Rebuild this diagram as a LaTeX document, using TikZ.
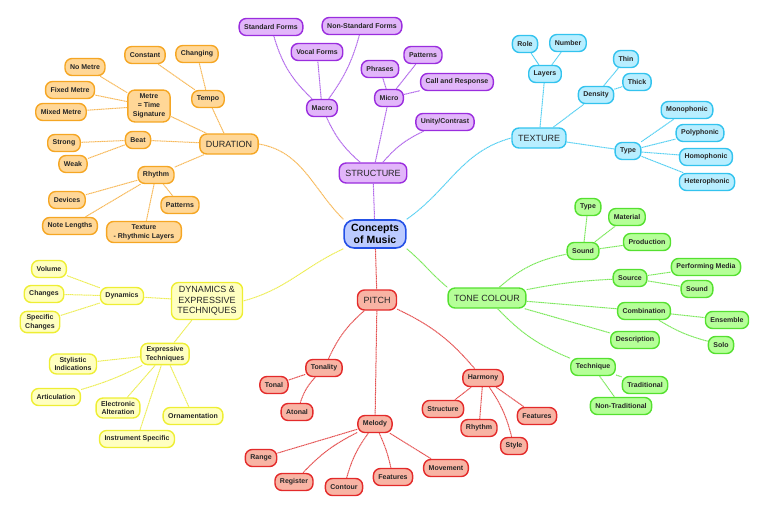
\documentclass[tikz,border=0pt]{standalone}
\usepackage{fontspec}
\setmainfont{Liberation Sans}
\definecolor{oF}{HTML}{FFD797}\definecolor{oD}{HTML}{F5A623}\definecolor{oL}{HTML}{F7B95A}
\definecolor{pF}{HTML}{E2B6FA}\definecolor{pD}{HTML}{9A2DDE}\definecolor{pL}{HTML}{B066EA}
\definecolor{cF}{HTML}{B8EEFF}\definecolor{cD}{HTML}{33C3EE}\definecolor{cL}{HTML}{55CFF2}
\definecolor{gF}{HTML}{B5FF98}\definecolor{gD}{HTML}{55E030}\definecolor{gL}{HTML}{7BE85A}
\definecolor{yF}{HTML}{FFFFC0}\definecolor{yD}{HTML}{EEEE33}\definecolor{yL}{HTML}{EDED55}
\definecolor{rF}{HTML}{F8B4A4}\definecolor{rD}{HTML}{E32A2A}\definecolor{rL}{HTML}{E45050}
\definecolor{bF}{HTML}{BCCBFF}\definecolor{bD}{HTML}{2350E6}
\tikzset{
  mmbox/.style={draw, line width=1.4pt, rounded corners=7pt, font=\fontsize{7}{8.8}\selectfont\bfseries,
    inner xsep=5pt, inner ysep=3pt, minimum height=17pt, align=center, text=black!85},
  mmmain/.style={mmbox, font=\fontsize{9}{10.5}\selectfont, minimum height=20pt, inner xsep=6pt},
  boxO/.style={mmbox, fill=oF, draw=oD}, mainO/.style={mmmain, fill=oF, draw=oD},
  boxP/.style={mmbox, fill=pF, draw=pD}, mainP/.style={mmmain, fill=pF, draw=pD},
  boxC/.style={mmbox, fill=cF, draw=cD}, mainC/.style={mmmain, fill=cF, draw=cD},
  boxG/.style={mmbox, fill=gF, draw=gD}, mainG/.style={mmmain, fill=gF, draw=gD},
  boxY/.style={mmbox, fill=yF, draw=yD}, mainY/.style={mmmain, fill=yF, draw=yD},
  boxR/.style={mmbox, fill=rF, draw=rD}, mainR/.style={mmmain, fill=rF, draw=rD},
  mmconn/.style={line width=1pt, dash pattern=on 1.3pt off 0.5pt},
  lineO/.style={mmconn, draw=oL}, lineP/.style={mmconn, draw=pL}, lineC/.style={mmconn, draw=cL},
  lineG/.style={mmconn, draw=gL}, lineY/.style={mmconn, draw=yL}, lineR/.style={mmconn, draw=rL},
}
\begin{document}
\begin{tikzpicture}[x=1pt, y=-1pt]
\useasboundingbox (0,0) rectangle (768,515);
% centre
\node[draw=bD, fill=bF, line width=1.6pt, rounded corners=10pt, align=center,
  font=\fontsize{10.5}{12.5}\selectfont\bfseries, inner xsep=7pt, inner ysep=4pt] (center) at (375,234) {Concepts\\of Music};
% DURATION
\node[mainO] (dur) at (229,144) {DURATION};
\node[boxO] (tempo) at (208,99) {Tempo};
\node[boxO] (const) at (145,55) {Constant};
\node[boxO] (chang) at (197,54) {Changing};
\node[boxO, inner ysep=4pt] (metre) at (149,106) {Metre\\= Time\\Signature};
\node[boxO] (nometre) at (85,67) {No Metre};
\node[boxO] (fixed) at (70,90) {Fixed Metre};
\node[boxO] (mixed) at (61,112) {Mixed Metre};
\node[boxO] (beat) at (138,140) {Beat};
\node[boxO] (strong) at (64,143) {Strong};
\node[boxO] (weak) at (73,164) {Weak};
\node[boxO] (rhythm) at (156,175) {Rhythm};
\node[boxO] (devices) at (67,200) {Devices};
\node[boxO] (notel) at (70,226) {Note Lengths};
\node[boxO] (opat) at (180,205) {Patterns};
\node[boxO, inner xsep=7pt] (texr) at (144,232) {Texture\\- Rhythmic Layers};
% STRUCTURE
\node[mainP] (struct) at (373,173) {STRUCTURE};
\node[boxP] (macro) at (322,108) {Macro};
\node[boxP] (stdf) at (271,27) {Standard Forms};
\node[boxP] (nstdf) at (362,26) {Non-Standard Forms};
\node[boxP] (vocal) at (317,52) {Vocal Forms};
\node[boxP] (micro) at (389,98) {Micro};
\node[boxP] (phrases) at (380,69) {Phrases};
\node[boxP] (ppat) at (423,55) {Patterns};
\node[boxP] (call) at (457,82) {Call and Response};
\node[boxP] (unity) at (445,122) {Unity/Contrast};
% TEXTURE
\node[mainC] (tex) at (539,138) {TEXTURE};
\node[boxC] (layers) at (545,74) {Layers};
\node[boxC] (role) at (525,44) {Role};
\node[boxC] (number) at (568,43) {Number};
\node[boxC] (density) at (596,95) {Density};
\node[boxC] (thin) at (626,59) {Thin};
\node[boxC] (thick) at (637,82) {Thick};
\node[boxC] (ctype) at (628,151) {Type};
\node[boxC] (mono) at (687,110) {Monophonic};
\node[boxC] (poly) at (700,133) {Polyphonic};
\node[boxC] (homo) at (706,157) {Homophonic};
\node[boxC] (hetero) at (707,182) {Heterophonic};
% TONE COLOUR
\node[mainG] (tone) at (487,298) {TONE COLOUR};
\node[boxG] (gsound) at (583,251) {Sound};
\node[boxG] (gtype) at (588,207) {Type};
\node[boxG] (material) at (627,217) {Material};
\node[boxG] (prod) at (647,242) {Production};
\node[boxG] (source) at (630,278) {Source};
\node[boxG] (perf) at (706,267) {Performing Media};
\node[boxG] (gsound2) at (697,289) {Sound};
\node[boxG] (comb) at (644,311) {Combination};
\node[boxG] (ens) at (727,320) {Ensemble};
\node[boxG] (solo) at (721,345) {Solo};
\node[boxG] (desc) at (635,340) {Description};
\node[boxG] (tech) at (593,367) {Technique};
\node[boxG] (trad) at (645,385) {Traditional};
\node[boxG] (ntrad) at (621,406) {Non-Traditional};
% DYNAMICS
\node[mainY, inner ysep=4pt] (dyn) at (207,301) {DYNAMICS \&\\EXPRESSIVE\\TECHNIQUES};
\node[boxY] (dynamics) at (122,296) {Dynamics};
\node[boxY] (volume) at (49,269) {Volume};
\node[boxY] (changes) at (44,294) {Changes};
\node[boxY] (specific) at (40,322) {Specific\\Changes};
\node[boxY] (expr) at (165,354) {Expressive\\Techniques};
\node[boxY] (stylistic) at (73,364) {Stylistic\\Indications};
\node[boxY] (artic) at (56,397) {Articulation};
\node[boxY] (elec) at (118,408) {Electronic\\Alteration};
\node[boxY] (orna) at (193,416) {Ornamentation};
\node[boxY] (instr) at (137,439) {Instrument Specific};
% PITCH
\node[mainR] (pitch) at (377,300) {PITCH};
\node[boxR] (tonality) at (324,368) {Tonality};
\node[boxR] (tonal) at (274,385) {Tonal};
\node[boxR] (atonal) at (297,412) {Atonal};
\node[boxR] (melody) at (375,424) {Melody};
\node[boxR] (range) at (261,458) {Range};
\node[boxR] (register) at (294,482) {Register};
\node[boxR] (contour) at (344,487) {Contour};
\node[boxR] (mfeat) at (393,477) {Features};
\node[boxR] (movement) at (446,468) {Movement};
\node[boxR] (harmony) at (483,378) {Harmony};
\node[boxR] (hstruct) at (443,409) {Structure};
\node[boxR] (hrhythm) at (479,428) {Rhythm};
\node[boxR] (style) at (514,446) {Style};
\node[boxR] (hfeat) at (537,416) {Features};

% ---- connectors ----
\draw[lineO] (dur.east) to[out=-10,in=135] (center.north west);
\draw[lineP] (struct) -- (center);
\draw[lineC] (center.north east) to[out=35,in=195] (tex.west);
\draw[lineG] (center.south east) to[out=-40,in=140] (tone.north west);
\draw[lineY] (center.south west) to[out=205,in=15] (dyn.east);
\draw[lineR] (center) -- (pitch);
% duration
\draw[lineO] (dur) -- (tempo);
\draw[lineO] (dur) -- (metre);
\draw[lineO] (dur) -- (beat);
\draw[lineO] (dur) -- (rhythm);
\draw[lineO] (tempo) -- (const);
\draw[lineO] (tempo) -- (chang);
\draw[lineO] (metre) -- (nometre);
\draw[lineO] (metre) -- (fixed);
\draw[lineO] (metre) -- (mixed);
\draw[lineO] (beat) -- (strong);
\draw[lineO] (beat) -- (weak);
\draw[lineO] (rhythm) -- (devices);
\draw[lineO] (rhythm) -- (notel);
\draw[lineO] (rhythm) -- (opat);
\draw[lineO] (rhythm) -- (texr);
% structure
\draw[lineP] (struct) to[bend left=12] (macro);
\draw[lineP] (struct) -- (micro);
\draw[lineP] (struct) to[bend left=12] (unity);
\draw[lineP] (macro) to[bend left=15] (stdf);
\draw[lineP] (macro) -- (vocal);
\draw[lineP] (macro) to[bend right=10] (nstdf);
\draw[lineP] (micro) -- (phrases);
\draw[lineP] (micro) -- (ppat);
\draw[lineP] (micro) -- (call);
% texture
\draw[lineC] (tex) -- (layers);
\draw[lineC] (tex) -- (density);
\draw[lineC] (tex) -- (ctype);
\draw[lineC] (layers) -- (role);
\draw[lineC] (layers) -- (number);
\draw[lineC] (density) -- (thin);
\draw[lineC] (density) -- (thick);
\draw[lineC] (ctype) -- (mono);
\draw[lineC] (ctype) -- (poly);
\draw[lineC] (ctype) -- (homo);
\draw[lineC] (ctype) -- (hetero);
% tone colour
\draw[lineG] (tone) to[bend left=15] (gsound);
\draw[lineG] (tone) to[bend left=4] (source);
\draw[lineG] (tone) -- (comb);
\draw[lineG] (tone) -- (desc);
\draw[lineG] (tone) to[bend right=12] (tech);
\draw[lineG] (gsound) -- (gtype);
\draw[lineG] (gsound) -- (material);
\draw[lineG] (gsound) -- (prod);
\draw[lineG] (source) -- (perf);
\draw[lineG] (source) -- (gsound2);
\draw[lineG] (comb) -- (ens);
\draw[lineG] (comb) to[bend right=8] (solo);
\draw[lineG] (tech) -- (trad);
\draw[lineG] (tech) -- (ntrad);
% dynamics
\draw[lineY] (dyn) -- (dynamics);
\draw[lineY] (dyn) -- (expr);
\draw[lineY] (dynamics) -- (volume);
\draw[lineY] (dynamics) -- (changes);
\draw[lineY] (dynamics) -- (specific);
\draw[lineY] (expr) -- (stylistic);
\draw[lineY] (expr) to[bend left=5] (artic);
\draw[lineY] (expr) -- (elec);
\draw[lineY] (expr) -- (orna);
\draw[lineY] (expr) -- (instr);
% pitch
\draw[lineR] (pitch) to[bend right=12] (tonality);
\draw[lineR] (pitch) -- (melody);
\draw[lineR] (pitch) to[bend left=12] (harmony);
\draw[lineR] (tonality) -- (tonal);
\draw[lineR] (tonality) to[bend right=12] (atonal);
\draw[lineR] (melody) -- (range);
\draw[lineR] (melody) to[bend right=10] (register);
\draw[lineR] (melody) to[bend right=10] (contour);
\draw[lineR] (melody) to[bend left=6] (mfeat);
\draw[lineR] (melody) -- (movement);
\draw[lineR] (harmony) -- (hstruct);
\draw[lineR] (harmony) -- (hrhythm);
\draw[lineR] (harmony) to[bend left=10] (style);
\draw[lineR] (harmony) -- (hfeat);
\end{tikzpicture}
\end{document}
